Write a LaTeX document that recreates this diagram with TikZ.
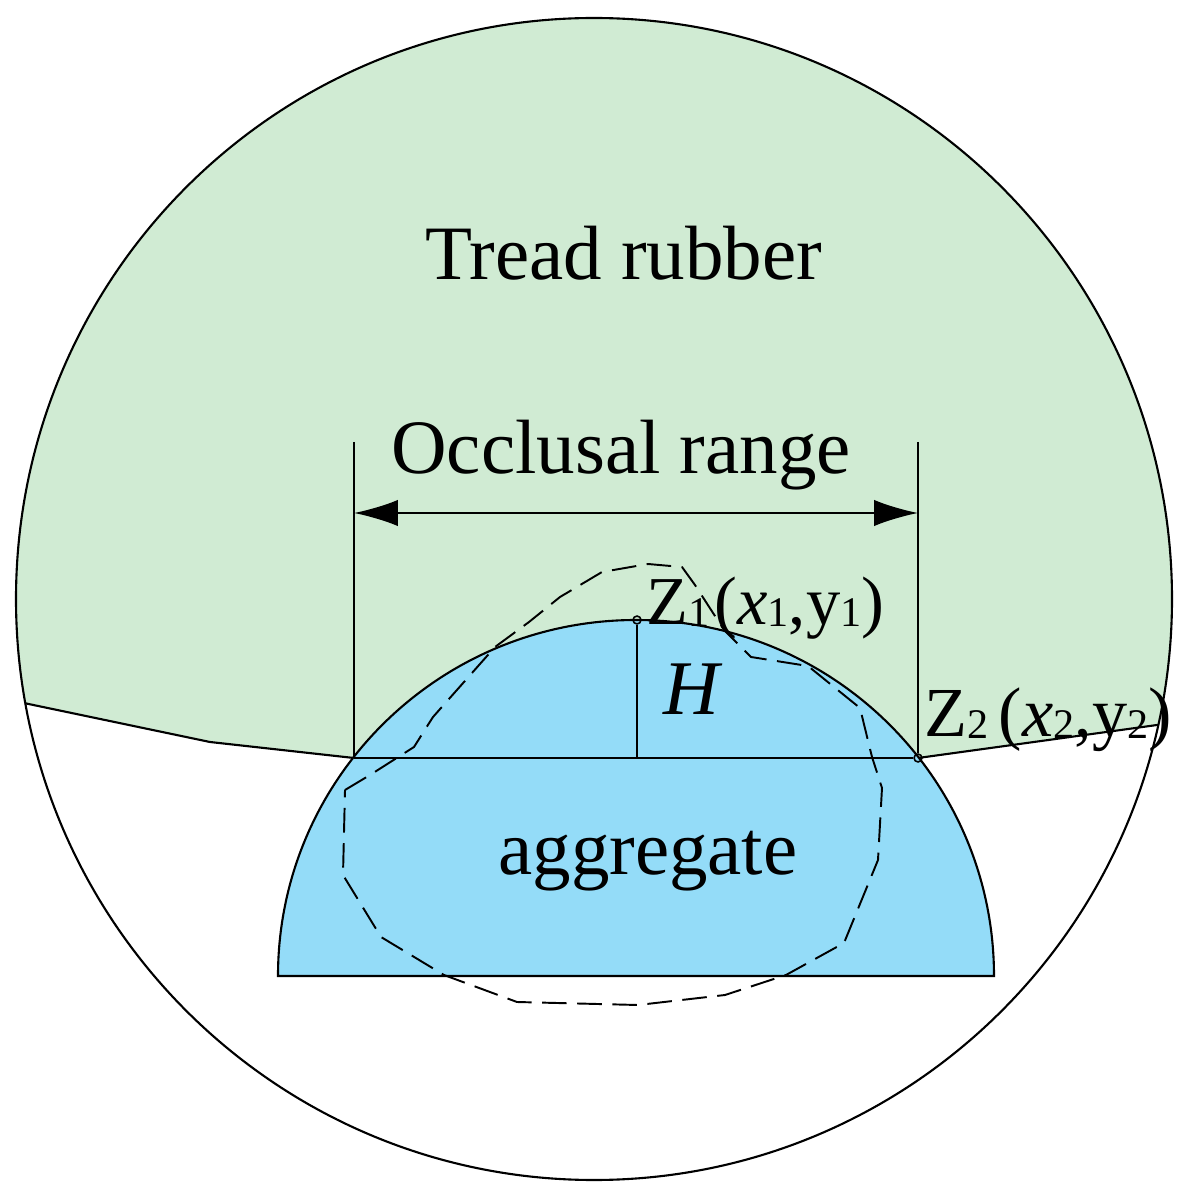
\documentclass[tikz,border=0pt]{standalone}
\usepackage{fontspec}
\setmainfont{Liberation Serif}
\usetikzlibrary{arrows.meta}
\definecolor{rubber}{HTML}{D0EBD3}
\definecolor{aggr}{HTML}{94DCF8}
\newcommand{\lowsub}[1]{\raisebox{-0.02em}{\fontsize{24}{24}\selectfont #1}}
\tikzset{
  px/.style={x=0.02cm,y=-0.02cm},
  outline/.style={draw=black,line width=1.2pt},
  thinline/.style={draw=black,line width=1.1pt},
  occl/.style={draw=black,line width=1.1pt,dash pattern=on 14pt off 6pt,line join=round},
  lbl/.style={inner sep=0pt,anchor=base west,font=\fontsize{43.8}{44}\selectfont},
  coordlbl/.style={inner sep=0pt,anchor=base west,font=\fontsize{40}{40}\selectfont},
  pin/.style={circle,draw=black,line width=0.9pt,inner sep=0pt,minimum size=4.5pt},
  dimarrow/.style={draw=black,line width=1.1pt,{Latex[length=25pt,width=15pt]}-{Latex[length=25pt,width=15pt]}}
}
\begin{document}
\begin{tikzpicture}[px]
\useasboundingbox (0,0) rectangle (1194,1192);
% rubber, clipped to the circle
\begin{scope}
  \clip (594,599) ellipse [x radius=578,y radius=581];
  \fill[rubber] (0,0) -- (1194,0) -- (1194,720) -- (1157,725) -- (918,758) -- (354,758) -- (210,742) -- (0,698) -- cycle;
  \draw[outline] (0,698) -- (210,742) -- (354,758);
  \draw[outline] (918,758) -- (1157,725) -- (1194,720);
\end{scope}
% aggregate
\path[fill=aggr] (278,976) arc[start angle=180,end angle=360,x radius=358,y radius=356] -- cycle;
\draw[outline] (278,976) arc[start angle=180,end angle=360,x radius=358,y radius=356] -- cycle;
% circle
\draw[outline] (594,599) ellipse [x radius=578,y radius=581];
% occlusal dashed outline
\draw[occl] (345,790) -- (370,775) -- (414,747) -- (426,728) -- (433,717) -- (495,647) -- (529,622) -- (560,597) -- (602,572) -- (648,564) -- (682,567) -- (695,585) -- (724,630) -- (751,657) -- (808,666) -- (860,708) -- (872,757) -- (882,788) -- (878,860) -- (844,943) -- (786,975) -- (725,995) -- (638,1005) -- (517,1002) -- (444,975) -- (381,937) -- (343,875) -- cycle;
% measures
\coordinate (ltop) at (354,442);
\coordinate (rtop) at (918,442);
\coordinate (lfoot) at (354,758);
\coordinate (aL) at (354,513);
\coordinate (aR) at (918,513);
\node[pin] (z1) at (637,620) {};
\node[pin] (z2) at (918,758) {};
\coordinate (hfoot) at (637,758);
\draw[thinline] (ltop) -- (lfoot);
\draw[thinline] (rtop) -- (z2);
\draw[thinline] (lfoot) -- (z2);
\draw[thinline] (z1) -- (hfoot);
\draw[dimarrow] (aL) -- (aR);
% labels
\node[lbl] (tread) at (425,280) {Tread rubber};
\node[lbl] (occ) at (391,474) {Occlusal range};
\node[lbl] (agg) at (498,874) {aggregate};
\node[lbl,font=\fontsize{44}{44}\selectfont\itshape] (hh) at (663,715) {H};
\node[coordlbl,font=\fontsize{39}{39}\selectfont] (z1l) at (646,625) {Z\lowsub{1}\hspace{3pt}(\textit{x}\lowsub{1},y\lowsub{1})};
\node[coordlbl] (z2l) at (924,737) {Z\lowsub{2}\hspace{6pt}(\textit{x}\lowsub{2},y\lowsub{2})};
\end{tikzpicture}
\end{document}
